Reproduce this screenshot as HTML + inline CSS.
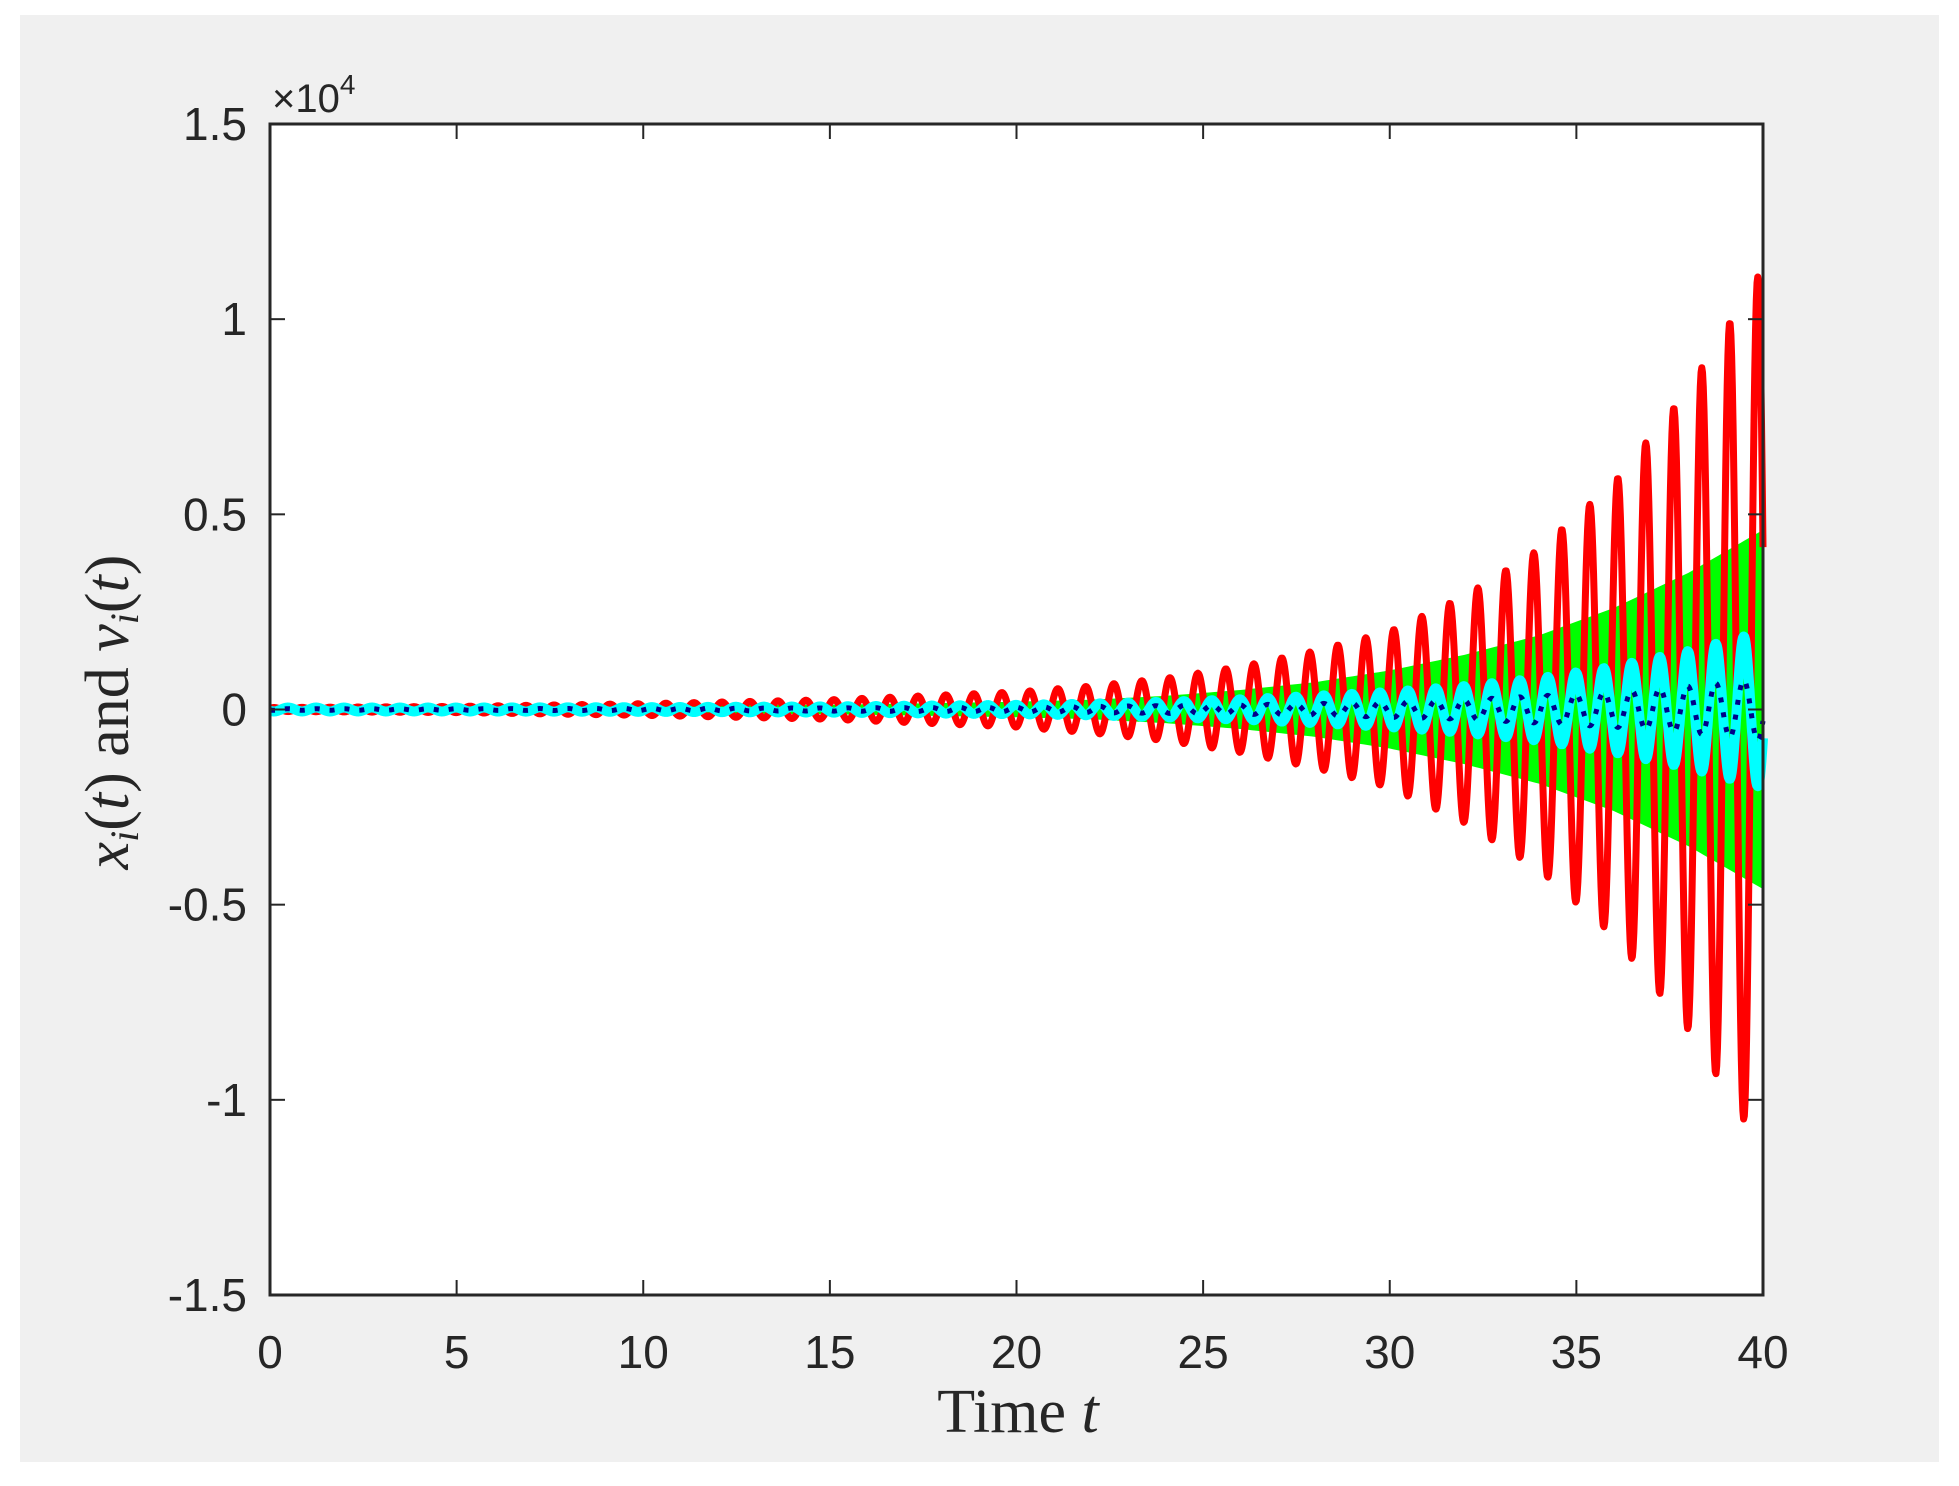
<!DOCTYPE html>
<html><head><meta charset="utf-8"><style>
html,body{margin:0;padding:0;background:#fff;}
svg{display:block;}
.tk{font-family:"Liberation Sans",sans-serif;font-size:46px;fill:#262626;}
.ser{font-family:"Liberation Serif",serif;fill:#262626;}
</style></head><body>
<svg id="chart" width="1959" height="1486" viewBox="0 0 1959 1486" xmlns="http://www.w3.org/2000/svg">
<rect x="0" y="0" width="1959" height="1486" fill="#ffffff"/>
<rect x="20" y="15" width="1919" height="1447" fill="#f0f0f0"/>
<rect x="270" y="124" width="1493" height="1171" fill="#ffffff"/>
<g id="series"></g>
<g id="axes"></g>
<text x="272" y="112" class="tk" style="font-size:40px">×10<tspan dy="-18" style="font-size:28px">4</tspan></text>
<text x="1018" y="1432" class="ser" font-size="62" text-anchor="middle">Time <tspan font-style="italic">t</tspan></text>
<text transform="translate(128,712) rotate(-90)" class="ser" font-size="62" text-anchor="middle"><tspan font-style="italic">x</tspan><tspan font-style="italic" font-size="40" dy="10">i</tspan><tspan dy="-10">(</tspan><tspan font-style="italic">t</tspan>) and <tspan font-style="italic">ν</tspan><tspan font-style="italic" font-size="40" dy="10">i</tspan><tspan dy="-10">(</tspan><tspan font-style="italic">t</tspan>)</text>
</svg>
<script>
// data (values in units of 1e4)
const xTicks = [0,5,10,15,20,25,30,35,40];
const yTicks = [-1.5,-1,-0.5,0,0.5,1,1.5];
const yTickLabels = ["-1.5","-1","-0.5","0","0.5","1","1.5"];
const envTimes = [0,5,10,15,20,22,24,26,28,30,32,34,36,38,40];
const redAmp   = [0.005,0.008,0.015,0.025,0.045,0.06,0.08,0.11,0.15,0.2,0.29,0.41,0.58,0.82,1.13];
const greenAmp = [0.01,0.01,0.01,0.012,0.02,0.025,0.035,0.05,0.07,0.1,0.14,0.19,0.26,0.35,0.46];
const cyanAmp  = [0.005,0.005,0.006,0.008,0.012,0.015,0.02,0.026,0.035,0.045,0.06,0.08,0.11,0.15,0.2];
const blueAmp  = [0.002,0.002,0.003,0.004,0.006,0.008,0.01,0.012,0.015,0.02,0.025,0.035,0.045,0.06,0.08];
const oscPeriod = [0.75];

const X0=270,X1=1763,Y0=124,Y1=1295;
const xs = t => X0 + (t/40)*(X1-X0);
const ys = v => Y0 + (1.5-v)/3*(Y1-Y0);
const NS="http://www.w3.org/2000/svg";
function env(arr,t){
  for(let i=0;i<envTimes.length-1;i++){
    if(t<=envTimes[i+1]){const f=(t-envTimes[i])/(envTimes[i+1]-envTimes[i]);return arr[i]+(arr[i+1]-arr[i])*f;}
  }
  return arr[arr.length-1];
}
const g=document.getElementById('series');
let gp=[];
for(let t=0;t<=40.001;t+=0.1) gp.push(xs(t)+','+ys(env(greenAmp,t)));
for(let t=40;t>=-0.001;t-=0.1) gp.push(xs(t)+','+ys(-env(greenAmp,t)));
const band=document.createElementNS(NS,'polygon');
band.setAttribute('points',gp.join(' '));
band.setAttribute('fill','#00ff00');


g.appendChild(band);
function osc(arr,color,w,name,phase,dash){
  const P=oscPeriod[0];let pts=[];
  for(let t=0;t<=40.0001;t+=0.02){
    pts.push(xs(t)+','+ys(phase*env(arr,t)*Math.sin(2*Math.PI*(t+0.08)/P)));
  }
  const pl=document.createElementNS(NS,'polyline');
  pl.setAttribute('points',pts.join(' '));
  pl.setAttribute('fill','none');pl.setAttribute('stroke',color);
  pl.setAttribute('stroke-width',w);pl.setAttribute('stroke-linejoin','round');
  if(dash)pl.setAttribute('stroke-dasharray',dash);
  
  
  g.appendChild(pl);
}
osc(redAmp,'#ff0000',7,'red-series',1);
osc(cyanAmp,'#00ffff',10,'cyan-series',-1);
osc(blueAmp,'#00008b',5,'blue-series',-1,'5 10');
const a=document.getElementById('axes');
const box=document.createElementNS(NS,'rect');
box.setAttribute('x',X0);box.setAttribute('y',Y0);box.setAttribute('width',X1-X0);box.setAttribute('height',Y1-Y0);
box.setAttribute('fill','none');box.setAttribute('stroke','#262626');box.setAttribute('stroke-width','3');


a.appendChild(box);
function line(x1,y1,x2,y2,name){const l=document.createElementNS(NS,'line');l.setAttribute('x1',x1);l.setAttribute('y1',y1);l.setAttribute('x2',x2);l.setAttribute('y2',y2);l.setAttribute('stroke','#262626');l.setAttribute('stroke-width','2');


a.appendChild(l);}
function text(x,y,s,anchor,name){const e=document.createElementNS(NS,'text');e.setAttribute('x',x);e.setAttribute('y',y);e.setAttribute('text-anchor',anchor);e.setAttribute('class','tk');e.textContent=s;


a.appendChild(e);}
xTicks.forEach(t=>{const x=xs(t);line(x,Y1,x,Y1-15,'x-tick');line(x,Y0,x,Y0+15,'x-tick-top');text(x,1368,String(t),'middle','x-tick-label');});
yTicks.forEach((v,i)=>{const y=ys(v);line(X0,y,X0+15,y,'y-tick');line(X1,y,X1-15,y,'y-tick-right');text(247,y+16,yTickLabels[i],'end','y-tick-label');});
</script>
</body></html>
